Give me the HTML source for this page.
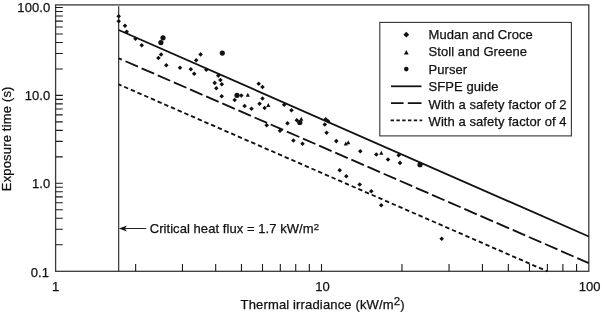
<!DOCTYPE html>
<html><head><meta charset="utf-8"><title>Chart</title><style>html,body{margin:0;padding:0;background:#fff}</style></head><body>
<svg width="602" height="312" viewBox="0 0 602 312" style="display:block;font-family:'Liberation Sans',sans-serif;font-size:13px;letter-spacing:0.06px" fill="#111">
<rect width="602" height="312" fill="#fff"/>
<rect x="55.6" y="4.9" width="533.1999999999999" height="266.40000000000003" fill="none" stroke="#3a3a3a" stroke-width="1.3"/>
<path d="M55.6 95.40h7.2 M55.6 68.94h7.2 M55.6 53.46h7.2 M55.6 42.48h7.2 M55.6 33.96h7.2 M55.6 27.00h7.2 M55.6 21.12h7.2 M55.6 16.02h7.2 M55.6 11.52h7.2 M55.6 7.50h7.2 M55.6 183.30h7.2 M55.6 156.84h7.2 M55.6 141.36h7.2 M55.6 130.38h7.2 M55.6 121.86h7.2 M55.6 114.90h7.2 M55.6 109.02h7.2 M55.6 103.92h7.2 M55.6 99.42h7.2 M55.6 95.40h7.2 M55.6 244.74h7.2 M55.6 229.26h7.2 M55.6 218.28h7.2 M55.6 209.76h7.2 M55.6 202.80h7.2 M55.6 196.92h7.2 M55.6 191.82h7.2 M55.6 187.32h7.2 M55.6 183.30h7.2 M135.64 271.3v-7.2 M182.47 271.3v-7.2 M215.69 271.3v-7.2 M241.46 271.3v-7.2 M262.51 271.3v-7.2 M280.31 271.3v-7.2 M295.73 271.3v-7.2 M309.33 271.3v-7.2 M401.97 271.3v-7.2 M449.03 271.3v-7.2 M482.43 271.3v-7.2 M508.33 271.3v-7.2 M529.50 271.3v-7.2 M547.39 271.3v-7.2 M562.90 271.3v-7.2 M576.57 271.3v-7.2 M321.50 271.3v-7.2" stroke="#1a1a1a" stroke-width="1.1" fill="none"/>
<path d="M118.7 6.3V271.3" stroke="#222" stroke-width="1.1" fill="none"/>
<g stroke="#111" stroke-width="1.85" fill="none">
<path d="M118.7 30.0L588.8 236.5"/>
<path d="M118.7 58.3L588.8 263.1" stroke-dasharray="13.6 4" stroke-dashoffset="10.2"/>
<path d="M118.7 84.4L547.2 271.3" stroke-dasharray="4.4 2.9" stroke-dashoffset="1.4"/>
</g>
<path d="M116.4 16.2L118.7 13.9L121.0 16.2L118.7 18.5ZM116.4 21.2L118.7 18.9L121.0 21.2L118.7 23.5ZM122.7 25.8L125.0 23.5L127.3 25.8L125.0 28.1ZM124.4 31.7L126.7 29.4L129.0 31.7L126.7 34.0ZM133.2 38.8L135.5 36.5L137.8 38.8L135.5 41.1ZM139.4 45.3L141.7 43.0L144.0 45.3L141.7 47.6ZM158.8 54.5L161.1 52.2L163.4 54.5L161.1 56.8ZM156.1 58.0L158.4 55.7L160.7 58.0L158.4 60.3ZM198.3 54.4L200.6 52.1L202.9 54.4L200.6 56.7ZM164.0 65.3L166.3 63.0L168.6 65.3L166.3 67.6ZM177.7 67.8L180.0 65.5L182.3 67.8L180.0 70.1ZM188.5 69.2L190.8 66.9L193.1 69.2L190.8 71.5ZM191.9 73.8L194.2 71.5L196.5 73.8L194.2 76.1ZM193.9 60.3L196.2 58.0L198.5 60.3L196.2 62.6ZM204.0 69.7L206.3 67.4L208.6 69.7L206.3 72.0ZM216.0 75.6L218.3 73.3L220.6 75.6L218.3 77.9ZM218.1 80.0L220.4 77.7L222.7 80.0L220.4 82.3ZM212.4 82.9L214.7 80.6L217.0 82.9L214.7 85.2ZM219.5 84.2L221.8 81.9L224.1 84.2L221.8 86.5ZM214.0 88.3L216.3 86.0L218.6 88.3L216.3 90.6ZM219.4 96.2L221.7 93.9L224.0 96.2L221.7 98.5ZM239.0 95.5L241.3 93.2L243.6 95.5L241.3 97.8ZM232.4 100.0L234.7 97.7L237.0 100.0L234.7 102.3ZM242.3 106.0L244.6 103.7L246.9 106.0L244.6 108.3ZM249.2 108.8L251.5 106.5L253.8 108.8L251.5 111.1ZM256.4 83.7L258.7 81.4L261.0 83.7L258.7 86.0ZM260.2 87.0L262.5 84.7L264.8 87.0L262.5 89.3ZM260.2 98.5L262.5 96.2L264.8 98.5L262.5 100.8ZM257.3 103.7L259.6 101.4L261.9 103.7L259.6 106.0ZM262.3 108.0L264.6 105.7L266.9 108.0L264.6 110.3ZM281.9 104.7L284.2 102.4L286.5 104.7L284.2 107.0ZM289.2 110.3L291.5 108.0L293.8 110.3L291.5 112.6ZM264.4 125.3L266.7 123.0L269.0 125.3L266.7 127.6ZM277.7 130.8L280.0 128.5L282.3 130.8L280.0 133.1ZM285.2 123.3L287.5 121.0L289.8 123.3L287.5 125.6ZM294.5 120.3L296.8 118.0L299.1 120.3L296.8 122.6ZM291.1 140.5L293.4 138.2L295.7 140.5L293.4 142.8ZM300.2 143.8L302.5 141.5L304.8 143.8L302.5 146.1ZM323.4 119.3L325.7 117.0L328.0 119.3L325.7 121.6ZM325.8 121.3L328.1 119.0L330.4 121.3L328.1 123.6ZM322.5 124.5L324.8 122.2L327.1 124.5L324.8 126.8ZM324.3 132.7L326.6 130.4L328.9 132.7L326.6 135.0ZM334.0 141.1L336.3 138.8L338.6 141.1L336.3 143.4ZM358.0 151.3L360.3 149.0L362.6 151.3L360.3 153.6ZM374.0 154.5L376.3 152.2L378.6 154.5L376.3 156.8ZM385.7 159.5L388.0 157.2L390.3 159.5L388.0 161.8ZM396.4 155.3L398.7 153.0L401.0 155.3L398.7 157.6ZM397.7 162.9L400.0 160.6L402.3 162.9L400.0 165.2ZM337.4 170.2L339.7 167.9L342.0 170.2L339.7 172.5ZM344.0 176.3L346.3 174.0L348.6 176.3L346.3 178.6ZM357.4 184.5L359.7 182.2L362.0 184.5L359.7 186.8ZM369.0 191.3L371.3 189.0L373.6 191.3L371.3 193.6ZM378.9 205.3L381.2 203.0L383.5 205.3L381.2 207.6ZM439.4 238.7L441.7 236.4L444.0 238.7L441.7 241.0ZM245.7 96.8L247.8 92.8L249.9 96.8ZM266.2 107.0L268.3 103.0L270.4 107.0ZM299.2 120.7L301.3 116.7L303.4 120.7ZM343.7 145.6L345.8 141.6L347.9 145.6ZM346.2 144.3L348.3 140.3L350.4 144.3ZM379.2 154.8L381.3 150.8L383.4 154.8Z" fill="#111"/>
<circle cx="163" cy="37.8" r="2.6"/>
<circle cx="160.9" cy="42.6" r="2.6"/>
<circle cx="222.3" cy="53.1" r="2.6"/>
<circle cx="237" cy="95.3" r="2.6"/>
<circle cx="299.8" cy="122.5" r="2.6"/>
<circle cx="420" cy="164.7" r="2.6"/>
<rect x="379.8" y="22.4" width="191.6" height="113.5" fill="#fff" stroke="#333" stroke-width="1.1"/>
<path d="M403.40000000000003 34.7L406.3 31.800000000000004L409.2 34.7L406.3 37.6Z"/>
<path d="M403.90000000000003 54.4L406.3 49.9L408.7 54.4Z"/>
<circle cx="406.3" cy="69.1" r="2.3"/>
<g stroke="#111" stroke-width="1.75" fill="none">
<path d="M391 86.3H421.5"/>
<path d="M391 103.1H421.5" stroke-dasharray="12.6 4.2 14 9"/>
<path d="M390.6 120.3H422.2" stroke-dasharray="3.4 2.4"/>
</g>
<g stroke="#111" stroke-width="0.25">
<text id="lg0" x="428.6" y="38.5">Mudan and Croce</text>
<text id="lg1" x="428.6" y="56.0">Stoll and Greene</text>
<text id="lg2" x="428.6" y="73.5">Purser</text>
<text id="lg3" x="428.6" y="91.0">SFPE guide</text>
<text id="lg4" x="428.6" y="108.5">With a safety factor of 2</text>
<text id="lg5" x="428.6" y="126.0">With a safety factor of 4</text>
<text id="y100" x="50.2" y="11.9" text-anchor="end">100.0</text>
<text id="y10" x="50.2" y="99.5" text-anchor="end">10.0</text>
<text id="y1" x="50.2" y="187.6" text-anchor="end">1.0</text>
<text id="y01" x="49.1" y="277.1" text-anchor="end">0.1</text>
<text id="x1" x="55.6" y="290.5" text-anchor="middle">1</text>
<text id="x10" x="322.6" y="290.5" text-anchor="middle">10</text>
<text id="x100" x="589.6" y="290.5" text-anchor="middle">100</text>
<text id="xt" x="240.6" y="308.5" style="letter-spacing:0.15px">Thermal irradiance (kW/m<tspan font-size="11.5" dy="-3.5">2</tspan><tspan dy="3.5">)</tspan></text>
<text id="yt" style="letter-spacing:0.17px" transform="translate(11.3 191.2) rotate(-90)">Exposure time (s)</text>
</g>
<path d="M125 228.5H146.3" stroke="#222" stroke-width="1" fill="none"/>
<path d="M118.9 228.5L127 225.4L124.8 228.5L127 231.6Z" fill="#111"/>
<text id="an" x="149.7" y="233.2" stroke="#111" stroke-width="0.25">Critical heat flux = 1.7 kW/m<tspan font-size="9.5" dy="-3.4">2</tspan></text>
</svg>
</body></html>
